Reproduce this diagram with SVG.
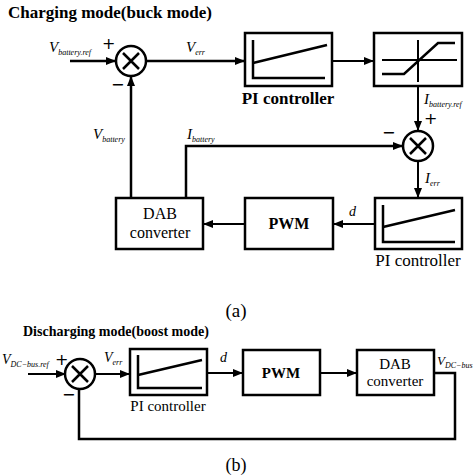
<svg xmlns="http://www.w3.org/2000/svg" width="474" height="475" viewBox="0 0 474 475" font-family="Liberation Serif, DejaVu Serif, serif">
<style>
.box{fill:#fff;stroke:#000;stroke-width:2.5}
.ln{fill:none;stroke:#000;stroke-width:2.5}
.thin{fill:none;stroke:#000;stroke-width:2}
.arr{marker-end:url(#ah)}
text{font-family:"Liberation Serif","DejaVu Serif",serif;fill:#000}
.b{font-weight:bold}
.i{font-style:italic}
.sub{font-style:italic;font-size:8px}
text.sym{font-family:"DejaVu Sans",sans-serif;font-size:16px}
</style>
<defs>
<marker id="ah" viewBox="0 0 10 8" refX="10" refY="4" markerWidth="10" markerHeight="8" markerUnits="userSpaceOnUse" orient="auto">
<path d="M0,0 L10,4 L0,8 Z" fill="#000"/>
</marker>
<g id="sum">
<circle r="15" fill="#fff" stroke="#000" stroke-width="2.5"/>
<path d="M-8,-8 L8,8 M-8,8 L8,-8" stroke="#000" stroke-width="2.5"/>
</g>
</defs>
<rect width="474" height="475" fill="#fff"/>

<text class="b" x="8" y="18" font-size="17">Charging mode(buck mode)</text>

<g id="connectors">
<line class="ln arr" x1="70" y1="61" x2="116" y2="61"/>
<line class="ln arr" x1="146" y1="61" x2="245" y2="61"/>
<line class="thin arr" x1="332" y1="61" x2="374" y2="61"/>
<line class="thin arr" x1="418" y1="86" x2="418" y2="131"/>
<polyline class="ln arr" points="186,198 186,146 403,146"/>
<line class="ln arr" x1="131" y1="198" x2="131" y2="76"/>
<line class="thin arr" x1="418" y1="161" x2="418" y2="198"/>
<line class="thin arr" x1="375" y1="224" x2="333" y2="224"/>
<line class="thin arr" x1="245" y1="224" x2="203" y2="224"/>

<line class="thin arr" x1="28" y1="374" x2="66" y2="374"/>
<line class="thin arr" x1="94" y1="374" x2="130" y2="374"/>
<line class="thin arr" x1="207" y1="373" x2="243" y2="373"/>
<line class="thin arr" x1="320" y1="373" x2="357" y2="373"/>
<polyline class="ln" points="434,373 455,373 455,439 79,439 79,388"/>
</g>

<g id="sum1"><use href="#sum" x="131" y="61"/></g>
<g id="sum2"><use href="#sum" x="418" y="146"/></g>
<g id="sum3"><use href="#sum" x="80" y="374"/></g>

<g id="pi1">
<rect class="box" x="245" y="33" width="87" height="53"/>
<polyline class="ln" points="253,40 253,78 325,78"/>
<line class="ln" x1="253" y1="63" x2="327" y2="45"/>
<text class="b" x="288" y="104" font-size="17" text-anchor="middle">PI controller</text>
</g>

<g id="limiter">
<rect class="box" x="374" y="33" width="88" height="53"/>
<line class="thin" x1="382" y1="60" x2="457" y2="60"/>
<line class="thin" x1="418" y1="40" x2="418" y2="82"/>
<polyline class="ln" points="382,74 404,74 438,43 455,43"/>
</g>

<g id="pi2">
<rect class="box" x="375" y="198" width="87" height="51"/>
<polyline class="ln" points="383,205 383,242 455,242"/>
<line class="ln" x1="383" y1="227" x2="455" y2="210"/>
<text x="418" y="266" font-size="17" text-anchor="middle">PI controller</text>
</g>

<g id="pwm1">
<rect class="box" x="245" y="198" width="88" height="51"/>
<text class="b" x="289" y="229" font-size="16" text-anchor="middle">PWM</text>
</g>

<g id="dab1">
<rect class="box" x="116" y="198" width="87" height="51"/>
<text x="160" y="219" font-size="16" text-anchor="middle">DAB</text>
<text x="160" y="238" font-size="16" text-anchor="middle">converter</text>
</g>

<g id="labels-a">
<text class="i" x="49" y="52" font-size="15">V<tspan class="sub" dy="3">battery.ref</tspan></text>
<text class="sym" x="102" y="49">+</text>
<text class="sym" x="111" y="90">−</text>
<text class="i" x="186" y="52" font-size="15">V<tspan class="sub" dy="3">err</tspan></text>
<text class="i" x="93" y="139" font-size="15">V<tspan class="sub" dy="3">battery</tspan></text>
<text class="i" x="187" y="139" font-size="15">I<tspan class="sub" dy="3">battery</tspan></text>
<text class="i" x="424" y="104" font-size="15">I<tspan class="sub" dy="3">battery.ref</tspan></text>
<text class="sym" x="424" y="124">+</text>
<text class="sym" x="382" y="138">−</text>
<text class="i" x="425" y="183" font-size="15">I<tspan class="sub" dy="3">err</tspan></text>
<text class="i" x="349" y="216" font-size="14">d</text>
</g>

<text x="236" y="317" font-size="19" text-anchor="middle">(a)</text>

<text class="b" x="23" y="336" font-size="14">Discharging mode(boost  mode)</text>

<g id="pi3">
<rect class="box" x="130" y="349" width="77" height="46"/>
<polyline class="ln" points="138,355 138,388 202,388"/>
<line class="ln" x1="138" y1="375" x2="202" y2="360"/>
<text x="168" y="411" font-size="15" text-anchor="middle">PI controller</text>
</g>

<g id="pwm2">
<rect class="box" x="243" y="350" width="77" height="45"/>
<text class="b" x="281" y="378" font-size="15" text-anchor="middle">PWM</text>
</g>

<g id="dab2">
<rect class="box" x="357" y="350" width="77" height="45"/>
<text x="395" y="369" font-size="15" text-anchor="middle">DAB</text>
<text x="395" y="386" font-size="15" text-anchor="middle">converter</text>
</g>

<g id="labels-b">
<text class="i" x="2" y="364" font-size="14">V<tspan class="sub" dy="3">DC−bus.ref</tspan></text>
<text class="sym" x="55" y="365">+</text>
<text class="sym" x="62" y="400">−</text>
<text class="i" x="104" y="362" font-size="14">V<tspan class="sub" dy="3">err</tspan></text>
<text class="i" x="220" y="362" font-size="14">d</text>
<text class="i" x="437" y="365" font-size="13">V<tspan class="sub" dy="3">DC−bus</tspan></text>
</g>

<text x="236" y="471" font-size="18" text-anchor="middle">(b)</text>
</svg>
